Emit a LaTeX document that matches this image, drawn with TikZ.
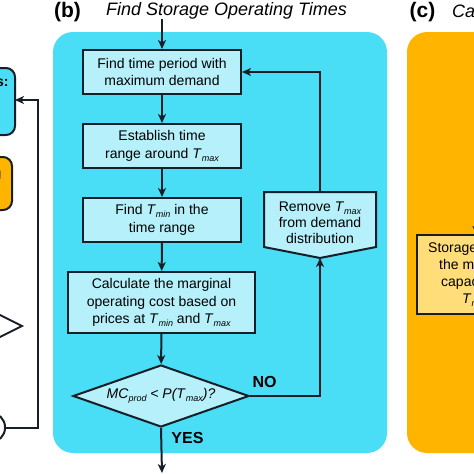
\documentclass[tikz,border=0pt]{standalone}
\usepackage{fontspec}
\setmainfont{Liberation Sans}
\usetikzlibrary{arrows.meta}
\usetikzlibrary{shapes.geometric}
\definecolor{panelblue}{RGB}{74,222,246}
\definecolor{boxblue}{RGB}{182,240,250}
\definecolor{panelorange}{RGB}{255,181,0}
\definecolor{boxorange}{RGB}{255,222,122}
\definecolor{edge}{RGB}{22,30,40}
\newcommand{\lowsub}[1]{\raisebox{-0.4ex}{\fontsize{9}{9}\selectfont\itshape #1}}
\newcommand{\Tsub}[1]{\textit{T}\lowsub{#1}}
\tikzset{
  procbox/.style={draw=edge,line width=2pt,fill=boxblue,align=center,
    minimum width=158,minimum height=44,inner sep=2pt,
    font=\fontsize{14}{17.5}\selectfont},
  arrowline/.style={-{Stealth[length=9pt,width=8pt,inset=2.5pt]},
    line width=2pt,edge},
  bigtag/.style={font=\fontsize{21}{21}\selectfont\bfseries},
  headline/.style={font=\fontsize{18}{18}\selectfont\itshape},
  answer/.style={font=\fontsize{16}{16}\selectfont\bfseries}
}

\begin{document}
\begin{tikzpicture}[x=1pt,y=-1pt]

\useasboundingbox (0,0) rectangle (474,474);
\clip (0,0) rectangle (474,474);

% panels
\fill [panelblue,rounded corners=20] (53,32) rectangle (387,453);
\fill [panelorange,rounded corners=20] (407,32) rectangle (560,453);

% what is left of panel (a)
\draw [line width=2pt,edge,fill=panelblue,rounded corners=9] (-80,68) rectangle (15,135);
\node [anchor=east,font=\fontsize{14}{14}\selectfont\bfseries] (leftnote) at (12,83) {s:};
\draw [line width=2pt,edge,fill=panelorange,rounded corners=9] (-80,157) rectangle (12,210);
\node [anchor=east,font=\fontsize{14}{14}\selectfont] (leftorange) at (5,176) {g};
\draw [line width=2pt,edge,fill=white] (-60,285) -- (22,326) -- (-60,367);
\draw [line width=2pt,edge,fill=white,rounded corners=14] (-80,413) rectangle (5,442);
\coordinate (leftend) at (5,428);
\coordinate (leftin) at (15,100);
\draw [-{Stealth[length=9pt,width=8pt,inset=2.5pt]},line width=1.5pt,edge]
      (leftend) -- (38,428) -- (38,100) -- (leftin);

% titles
\node [bigtag] (tagb) at (67.5,12) {(b)};
\node [headline] (titleb) at (226.5,11) {Find Storage Operating Times};
\node [bigtag] (tagc) at (422.5,12) {(c)};
\node [headline,anchor=west,inner sep=0pt] (titlec) at (452,11) {Ca};

% flow chart (b)
\node [procbox] (peak) at (162,72) {Find time period with\\maximum demand};
\node [procbox] (range) at (162,146) {Establish time\\range around \Tsub{max}};
\node [procbox] (lowest) at (162,220) {Find \Tsub{min} in the\\time range};
\node [procbox,minimum width=187,minimum height=61] (cost) at (161.5,302.5)
      {Calculate the marginal\\operating cost based on\\prices at \Tsub{min} and \Tsub{max}};
\node [diamond,aspect=2.84,draw=edge,line width=2pt,fill=boxblue,inner sep=0pt,
       minimum width=176,minimum height=62,font=\fontsize{14}{14}\selectfont] (check) at (161,396)
      {\textit{MC}\lowsub{prod}\textit{ < P(T}\lowsub{max}\textit{)?}};

% remove box, pointed at the bottom
\draw [line width=2pt,edge,fill=boxblue] (264,192) -- (376,192) -- (376,247)
      -- (320,258) -- (264,247) -- cycle;
\node [align=center,font=\fontsize{14}{16}\selectfont] (remove) at (320,223)
      {Remove \Tsub{max}\\from demand\\distribution};
\coordinate (removetop) at (320,192);
\coordinate (removetip) at (320,258);

\coordinate (start) at (162,19);
\coordinate (finish) at (162,473);

\draw [arrowline] (start) -- (peak);
\draw [arrowline] (peak) -- (range);
\draw [arrowline] (range) -- (lowest);
\draw [arrowline] (lowest) -- (cost);
\draw [arrowline] (cost) -- (check);
\draw [arrowline] (check.east) -- (removetip |- check.east) -- (removetip);
\draw [arrowline] (removetop) -- (removetop |- peak.east) -- (peak.east);
\draw [arrowline] (check.south) -- (finish);

% some text
\node [answer] (no) at (264.5,382) {NO};
\node [answer] (yes) at (187.5,438) {YES};

% what is left of panel (c)
\draw [line width=2pt,edge,fill=boxorange] (417,235) rectangle (560,314);
\node [anchor=north west,align=left,inner sep=0pt,font=\fontsize{14}{17}\selectfont] (storage) at (428,243)
      {Storage\\\hspace*{11pt}the m\\\hspace*{13pt}capac\\\hspace*{34pt}\Tsub{m}};
\coordinate (storagein) at (476.5,150);
\coordinate (storagetop) at (476.5,235);
\draw [arrowline] (storagein) -- (storagetop);

\end{tikzpicture}
\end{document}
